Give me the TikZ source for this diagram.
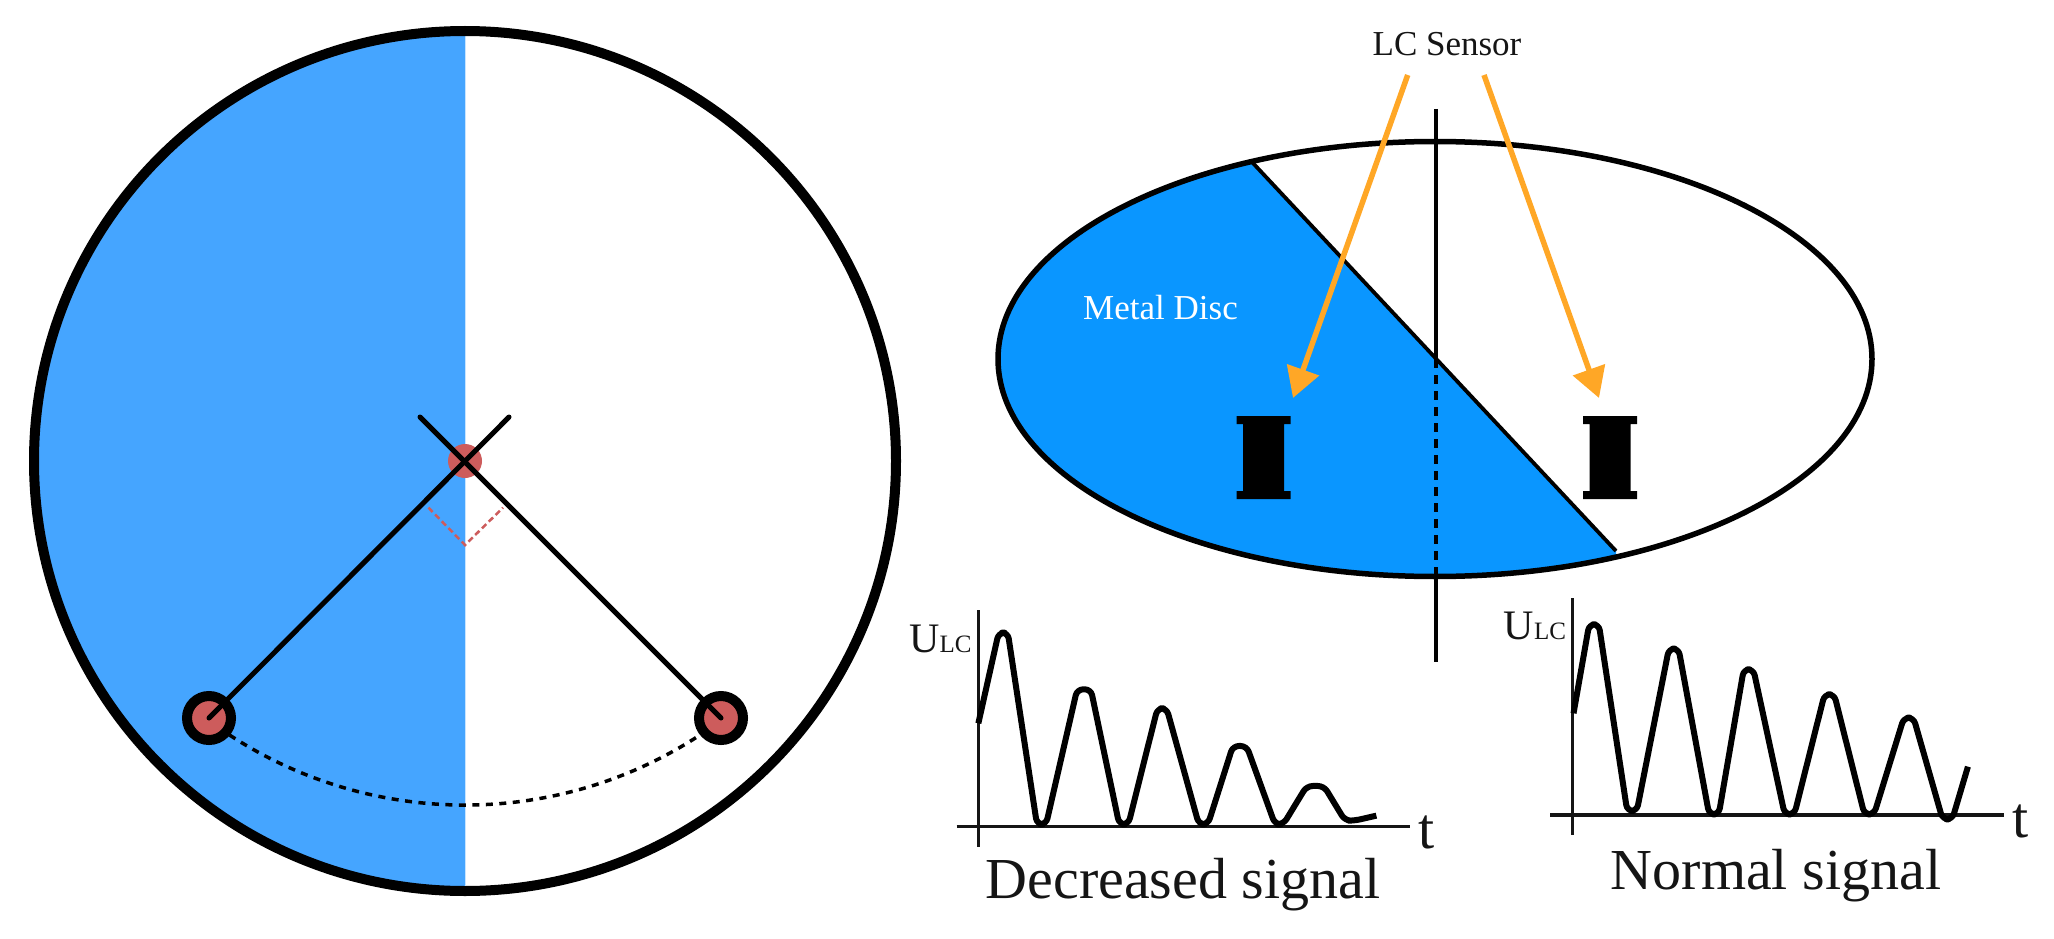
\documentclass[tikz,border=0pt]{standalone}
\usepackage{fontspec}
\setmainfont{Liberation Serif}
\usetikzlibrary{arrows.meta}
\definecolor{halfblue}{HTML}{45A5FF}
\definecolor{discblue}{HTML}{0A96FF}
\definecolor{pivotred}{HTML}{CD5C5C}
\definecolor{sensorarrow}{HTML}{FFA726}
\definecolor{plotink}{HTML}{151515}
\tikzset{
  txt/.style={anchor=base,inner sep=0pt,text=plotink},
  bigtxt/.style={txt,font=\fontsize{58}{60}\selectfont},
  midtxt/.style={txt,font=\fontsize{35}{38}\selectfont},
  ulab/.style={txt,anchor=base west,font=\fontsize{42}{44}\selectfont},
  arm/.style={line width=5pt,line cap=round,black},
  axisline/.style={line width=3.5pt,plotink},
  signal/.style={line width=6pt,rounded corners=6pt,line join=round,black},
  orangearrow/.style={line width=5.5pt,sensorarrow,-{Triangle[length=30pt,width=33pt]}},
  sensorbody/.style={fill=black,draw=none},
  pivotdot/.style={fill=pivotred,draw=none},
  ring/.style={fill=pivotred,draw=black,line width=10pt},
}
\newcommand{\lcsub}[1]{U{\fontsize{25}{26}\selectfont LC}}
\begin{document}
\begin{tikzpicture}[x=1pt,y=-1pt]
\useasboundingbox (0,0) rectangle (2054,939);
\fill[white] (0,0) rectangle (2054,939);
% left disc
\begin{scope}
  \clip (465,461) ellipse [x radius=431pt,y radius=430pt];
  \fill[halfblue] (20,20) rectangle (464.5,900);
\end{scope}
\draw[white!70!halfblue,line width=1.5pt] (465.3,30) -- (465.3,892);
\draw[black,line width=10pt] (465,461) ellipse [x radius=431pt,y radius=430pt];
\fill[pivotdot] (465,461) circle [radius=17pt];
\draw[pivotred,line width=2.5pt,dash pattern=on 6pt off 3.5pt] (428.5,507.7) -- (465,545) -- (503,507.7);
\coordinate (armA) at (209,718);
\coordinate (armB) at (721,718);
\coordinate (tipA) at (509,417);
\coordinate (tipB) at (420,417);
\coordinate (arcA) at (229.5,735);
\coordinate (arcB) at (700,735);
\draw[black,line width=3.5pt,dash pattern=on 7pt off 6.5pt] (arcA) .. controls (372.4,828.4) and (557.6,828.4) .. (arcB);
\draw[ring] (armA) circle [radius=22pt];
\draw[ring] (armB) circle [radius=22pt];
\draw[arm] (armA) -- (tipA);
\draw[arm] (armB) -- (tipB);
% metal disc ellipse
\begin{scope}
  \clip (1435,359) ellipse [x radius=437pt,y radius=217.5pt];
  \fill[discblue] (1252.7,100) -- (1252.7,162.8) -- (1616,551) -- (1616,600) -- (980,600) -- (980,100) -- cycle;
\end{scope}
\draw[black,line width=5.5pt] (1435,359) ellipse [x radius=437pt,y radius=217.5pt];
\draw[black,line width=3.8pt] (1252.7,162.8) -- (1616,551);
\coordinate (shaftTop) at (1436,109);
\coordinate (shaftMid) at (1436,359);
\coordinate (shaftLow) at (1436,575);
\coordinate (shaftEnd) at (1436,662);
\draw[black,line width=3.5pt] (shaftTop) -- (shaftMid);
\draw[black,line width=3.5pt,dash pattern=on 9pt off 7pt] (shaftMid) -- (shaftLow);
\draw[black,line width=3.5pt] (shaftLow) -- (shaftEnd);
% sensors
\foreach \sx in {1263.5,1610}{
  \fill[sensorbody] (\sx-27,416) -- (\sx+27,416) -- (\sx+27,424) -- (\sx+20.5,424) -- (\sx+20.5,491) -- (\sx+27,491) -- (\sx+27,499) -- (\sx-27,499) -- (\sx-27,491) -- (\sx-20.5,491) -- (\sx-20.5,424) -- (\sx-27,424) -- cycle;
}
% arrows and labels
\node[midtxt] (lcsensor) at (1447,56) {LC Sensor};
\node[midtxt,text=white] (metaldisc) at (1160.5,319) {Metal Disc};
\coordinate (arrowAstart) at (1407.7,75);
\coordinate (arrowAtip) at (1293,398);
\coordinate (arrowBstart) at (1484,75);
\coordinate (arrowBtip) at (1599,398);
\draw[orangearrow] (arrowAstart) -- (arrowAtip);
\draw[orangearrow] (arrowBstart) -- (arrowBtip);
% decreased signal plot
\draw[axisline] (978.4,610) -- (978.4,847);
\draw[axisline] (956.5,826.7) -- (1410,826.7);
\begin{scope}[shift={(880pt,-580pt)},x=0.3827pt,y=-0.3333pt]
  \draw[signal] (257,430) -- (310,158) -- (334,158) -- (410,733) -- (434,733) -- (515,328) -- (551,328) -- (625,733) -- (649,733) -- (725,385) -- (749,385) -- (833,733) -- (857,733) -- (922,498) -- (958,498) -- (1032,733) -- (1054,733) -- (1115,618) -- (1160,618) -- (1215,722) -- (1240,722) -- (1297,707);
\end{scope}
\node[ulab] (ulca) at (909,652) {\lcsub{}};
\node[bigtxt] (tA) at (1427,848) {t};
\node[bigtxt] (decr) at (1183,898) {Decreased signal};
% normal signal plot
\draw[axisline] (1572.4,598) -- (1572.4,835);
\draw[axisline] (1550,815) -- (2004,815);
\begin{scope}[shift={(1470pt,-570pt)},x=0.3724pt,y=-0.3333pt]
  \draw[signal] (278,430) -- (320,163) -- (346,163) -- (422,723) -- (448,723) -- (534,236) -- (560,236) -- (642,733) -- (668,733) -- (735,298) -- (761,298) -- (845,733) -- (871,733) -- (952,373) -- (978,373) -- (1059,733) -- (1085,733) -- (1165,443) -- (1191,443) -- (1269,748) -- (1295,748) -- (1337,590);
\end{scope}
\node[ulab] (ulcb) at (1503.5,639) {\lcsub{}};
\node[bigtxt] (tB) at (2021,837) {t};
\node[bigtxt] (norm) at (1776,889) {Normal signal};
\end{tikzpicture}
\end{document}
